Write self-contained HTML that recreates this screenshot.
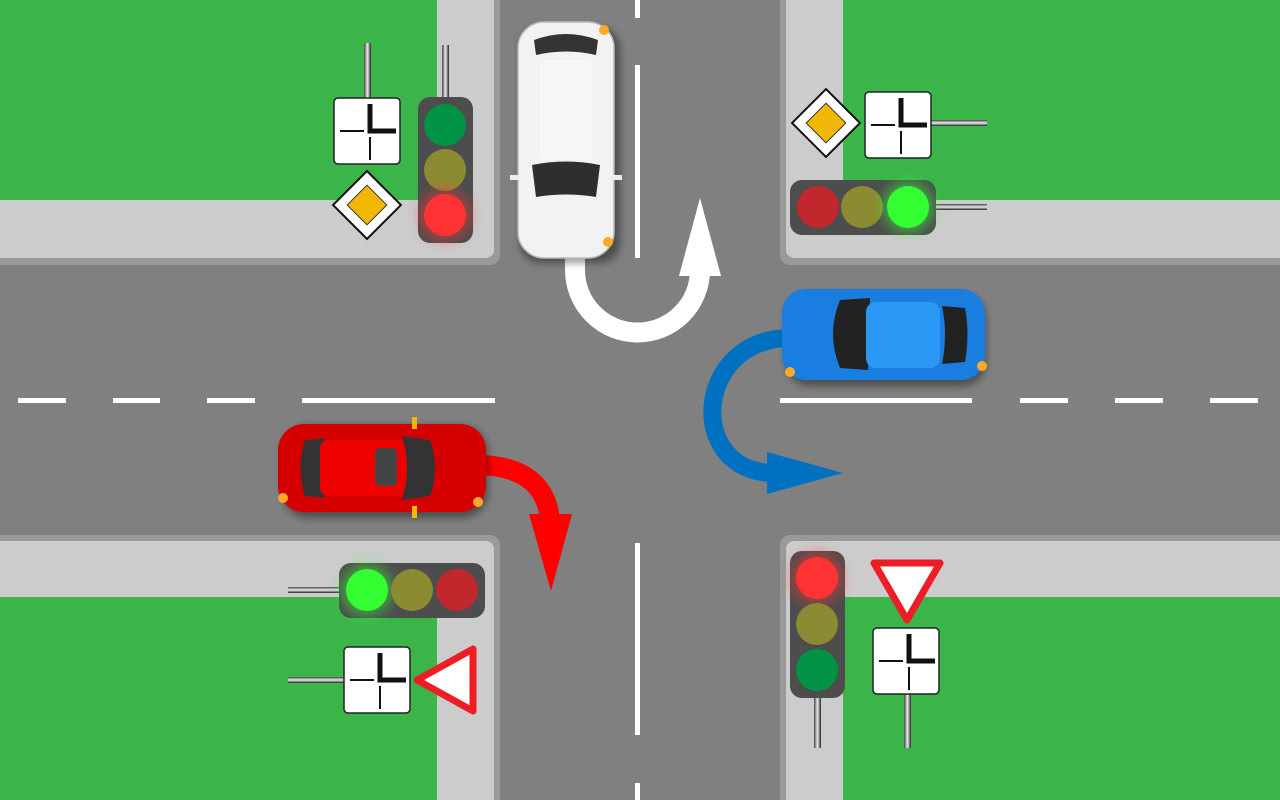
<!DOCTYPE html>
<html><head><meta charset="utf-8"><style>html,body{margin:0;padding:0;width:1280px;height:800px;overflow:hidden;background:#808080}</style></head>
<body>
<svg width="1280" height="800" viewBox="0 0 1280 800" xmlns="http://www.w3.org/2000/svg">
<defs>
<filter id="glow" x="-50%" y="-50%" width="200%" height="200%"><feGaussianBlur stdDeviation="6"/></filter>
<filter id="sh" x="-20%" y="-20%" width="140%" height="140%"><feGaussianBlur stdDeviation="4"/></filter>
<linearGradient id="poleV" x1="0" x2="1" y1="0" y2="0"><stop offset="0" stop-color="#444"/><stop offset="0.5" stop-color="#eee"/><stop offset="1" stop-color="#222"/></linearGradient>
<linearGradient id="poleH" x1="0" x2="0" y1="0" y2="1"><stop offset="0" stop-color="#444"/><stop offset="0.5" stop-color="#eee"/><stop offset="1" stop-color="#222"/></linearGradient>
<g id="sym">
<rect x="0" y="0" width="66" height="66" rx="4" fill="#fff" stroke="#222" stroke-width="1.5"/>
<path d="M36 6 V33 H62" fill="none" stroke="#111" stroke-width="5"/>
<path d="M6 33 H30 M36 39 V62" fill="none" stroke="#111" stroke-width="2"/>
</g>
</defs>
<rect width="1280" height="800" fill="#808080"/>
<rect x="-20" y="-20" width="520" height="285" rx="10" fill="#999"/>
<rect x="-20" y="-20" width="514" height="278" rx="8" fill="#cccccc"/>
<rect x="0" y="0" width="437" height="200" fill="#3bb54a"/>
<rect x="780" y="-20" width="520" height="285" rx="10" fill="#999"/>
<rect x="786" y="-20" width="514" height="278" rx="8" fill="#cccccc"/>
<rect x="843" y="0" width="437" height="200" fill="#3bb54a"/>
<rect x="-20" y="535" width="520" height="285" rx="10" fill="#999"/>
<rect x="-20" y="541" width="514" height="279" rx="8" fill="#cccccc"/>
<rect x="0" y="597" width="437" height="203" fill="#3bb54a"/>
<rect x="780" y="535" width="520" height="285" rx="10" fill="#999"/>
<rect x="786" y="541" width="514" height="279" rx="8" fill="#cccccc"/>
<rect x="843" y="597" width="437" height="203" fill="#3bb54a"/>
<g fill="#fff">
<rect x="18" y="398" width="48" height="5"/><rect x="113" y="398" width="47" height="5"/><rect x="207" y="398" width="48" height="5"/><rect x="302" y="398" width="193" height="5"/>
<rect x="780" y="398" width="192" height="5"/><rect x="1020" y="398" width="48" height="5"/><rect x="1115" y="398" width="48" height="5"/><rect x="1210" y="398" width="48" height="5"/>
<rect x="635" y="0" width="5" height="18"/><rect x="635" y="65" width="5" height="193"/>
<rect x="635" y="543" width="5" height="192"/><rect x="635" y="783" width="5" height="17"/>
</g>
<path d="M575 250 L575 270 A62 62 0 0 0 700 270 L700 262" fill="none" stroke="#fff" stroke-width="20"/>
<polygon points="679,276 721,276 700,198" fill="#fff"/>
<path d="M790 338 C 695 338, 685 470, 772 473" fill="none" stroke="#0070c0" stroke-width="18"/>
<polygon points="767,452 767,494 843,473" fill="#0070c0"/>
<path d="M482 465 Q545 468 550 520" fill="none" stroke="#ff0000" stroke-width="20"/>
<polygon points="529,514 572,514 551,591" fill="#ff0000"/>
<rect x="364" y="43" width="7" height="56" fill="url(#poleV)"/>
<rect x="442" y="45" width="7" height="54" fill="url(#poleV)"/>
<rect x="930" y="120" width="57" height="6" fill="url(#poleH)"/>
<rect x="930" y="204" width="57" height="6" fill="url(#poleH)"/>
<rect x="288" y="587" width="55" height="6" fill="url(#poleH)"/>
<rect x="288" y="677" width="58" height="6" fill="url(#poleH)"/>
<rect x="814" y="695" width="7" height="53" fill="url(#poleV)"/>
<rect x="904" y="692" width="7" height="56" fill="url(#poleV)"/>
<use href="#sym" x="334" y="98"/>
<rect x="343" y="181" width="48" height="48" transform="rotate(45 367 205)" fill="#fff" stroke="#111" stroke-width="2"/>
<rect x="353" y="191" width="28" height="28" transform="rotate(45 367 205)" fill="#f2b705" stroke="#333" stroke-width="1"/>
<use href="#sym" x="865" y="92"/>
<rect x="802" y="99" width="48" height="48" transform="rotate(45 826 123)" fill="#fff" stroke="#111" stroke-width="2"/>
<rect x="812" y="109" width="28" height="28" transform="rotate(45 826 123)" fill="#f2b705" stroke="#333" stroke-width="1"/>
<use href="#sym" x="344" y="647"/>
<polygon points="417,680 473,649 473,711" fill="#fff" stroke="#ee1c25" stroke-width="7" stroke-linejoin="round"/>
<use href="#sym" x="873" y="628"/>
<polygon points="874,563 940,563 907,620" fill="#fff" stroke="#ee1c25" stroke-width="7" stroke-linejoin="round"/>
<rect x="418" y="97" width="55" height="146" rx="12" fill="#4d4d4d"/>
<circle cx="445" cy="125" r="21" fill="#009245"/>
<circle cx="445" cy="170" r="21" fill="#8c8a32"/>
<circle cx="445" cy="215" r="26" fill="#ff3333" opacity="0.5" filter="url(#glow)"/>
<circle cx="445" cy="215" r="21" fill="#ff3333"/>
<rect x="790" y="180" width="146" height="55" rx="12" fill="#4d4d4d"/>
<circle cx="818" cy="207" r="21" fill="#c1272d"/>
<circle cx="862" cy="207" r="21" fill="#8c8a32"/>
<circle cx="908" cy="207" r="26" fill="#33ff33" opacity="0.5" filter="url(#glow)"/>
<circle cx="908" cy="207" r="21" fill="#33ff33"/>
<rect x="339" y="563" width="146" height="55" rx="12" fill="#4d4d4d"/>
<circle cx="367" cy="590" r="26" fill="#33ff33" opacity="0.5" filter="url(#glow)"/>
<circle cx="367" cy="590" r="21" fill="#33ff33"/>
<circle cx="412" cy="590" r="21" fill="#8c8a32"/>
<circle cx="457" cy="590" r="21" fill="#c1272d"/>
<rect x="790" y="551" width="55" height="147" rx="12" fill="#4d4d4d"/>
<circle cx="817" cy="578" r="26" fill="#ff3333" opacity="0.5" filter="url(#glow)"/>
<circle cx="817" cy="578" r="21" fill="#ff3333"/>
<circle cx="817" cy="624" r="21" fill="#8c8a32"/>
<circle cx="817" cy="670" r="21" fill="#009245"/>
<rect x="520" y="28" width="100" height="235" rx="20" fill="#000" opacity="0.4" filter="url(#sh)"/>
<rect x="518" y="22" width="96" height="236" rx="26" fill="#f2f2f2" stroke="#bbb" stroke-width="1.5"/>
<path d="M534 40 Q566 28 598 40 L596 55 Q566 48 536 55 Z" fill="#333"/>
<path d="M532 165 Q566 158 600 165 L596 197 Q566 192 536 197 Z" fill="#2e2e2e"/>
<rect x="540" y="60" width="52" height="100" rx="6" fill="#f7f7f7"/>
<rect x="510" y="175" width="12" height="5" fill="#eee"/><rect x="610" y="175" width="12" height="5" fill="#eee"/>
<circle cx="604" cy="30" r="5" fill="#ffaa22"/><circle cx="608" cy="242" r="5" fill="#ffaa22"/>
<rect x="786" y="294" width="200" height="92" rx="24" fill="#000" opacity="0.4" filter="url(#sh)"/>
<rect x="782" y="289" width="203" height="91" rx="24" fill="#1a7ee0"/>
<path d="M840 300 L870 298 L868 370 L840 368 Q826 334 840 300 Z" fill="#222"/>
<rect x="866" y="302" width="74" height="66" rx="10" fill="#2b98f5"/>
<path d="M942 306 L965 308 Q970 334 965 362 L942 364 Q948 334 942 306 Z" fill="#222"/>
<circle cx="790" cy="372" r="5" fill="#ffaa22"/><circle cx="982" cy="366" r="5" fill="#ffaa22"/>
<rect x="282" y="426" width="206" height="92" rx="26" fill="#000" opacity="0.4" filter="url(#sh)"/>
<rect x="278" y="424" width="208" height="88" rx="26" fill="#d40000"/>
<path d="M305 440 L325 438 Q320 468 325 498 L305 496 Q296 468 305 440 Z" fill="#333"/>
<rect x="320" y="440" width="92" height="56" rx="8" fill="#ee0000"/>
<rect x="375" y="448" width="22" height="38" rx="5" fill="#444"/>
<path d="M402 436 L430 440 Q440 468 430 496 L402 500 Q412 468 402 436 Z" fill="#333"/>
<rect x="412" y="417" width="5" height="12" fill="#f5b800"/><rect x="412" y="506" width="5" height="12" fill="#f5b800"/>
<circle cx="283" cy="498" r="5" fill="#ffaa22"/><circle cx="478" cy="502" r="5" fill="#ffaa22"/>
</svg>
</body></html>
